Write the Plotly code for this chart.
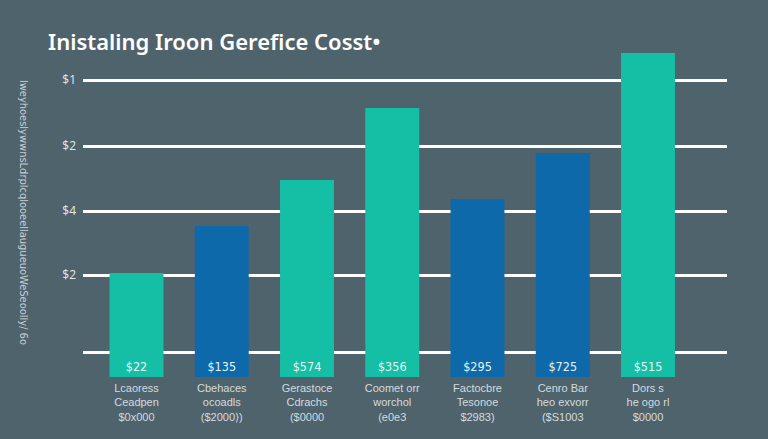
import plotly.graph_objects as go

categories = [
    "Lcaoress<br>Ceadpen<br>$0x000",
    "Cbehaces<br>ocoadls<br>($2000⟩)",
    "Gerastoce<br>Cdrachs<br>($0000",
    "Coomet orr<br>worchol<br>(e0e3",
    "Factocbre<br>Tesonoe<br>$2983)",
    "Cenro Bar<br>heo exvorr<br>($S1003",
    "Dors s<br>he ogo rl<br>$0000",
]
values = [104, 151, 197, 269, 178, 224, 324]
value_labels = ["$22", "$135", "$574", "$356", "$295", "$725", "$515"]
bar_kinds = ["teal", "blue", "teal", "teal", "blue", "blue", "teal"]
tick_vals = [25, 102, 166, 231, 297]
tick_text = ["", "$2", "$4", "$2", "$1"]

palette = {"teal": "#15BFA6", "blue": "#0E69AA"}
colors = [palette[k] for k in bar_kinds]

fig = go.Figure()
fig.add_trace(go.Bar(
    x=list(range(len(categories))),
    y=values,
    marker=dict(color=colors, line=dict(width=0)),
    text=value_labels,
    textposition="inside",
    insidetextanchor="start",
    textangle=0,
    textfont=dict(family="DejaVu Sans Condensed", size=12.5, color="#E6F4F2"),
    cliponaxis=False,
))

fig.update_layout(
    width=768, height=439,
    paper_bgcolor="#4F636D",
    plot_bgcolor="#4F636D",
    margin=dict(l=83, r=41, t=37, b=62),
    bargap=0.367,
    showlegend=False,
    title=dict(
        text="Inistaling Iroon Gerefice Cosst•",
        x=48 / 768, xanchor="left",
        y=1 - 42 / 439, yanchor="middle",
        font=dict(family="Noto Sans", size=22, color="#FFFFFF", weight=600),
    ),
    xaxis=dict(
        tickmode="array",
        tickvals=list(range(len(categories))),
        ticktext=categories,
        range=[-0.628, 6.927],
        showgrid=False, zeroline=False, showline=False,
        ticks="",
        ticklabelstandoff=3,
        tickfont=dict(family="Liberation Sans", size=11, color="#D3DBDE"),
    ),
    yaxis=dict(
        range=[0, 340],
        tickmode="array",
        tickvals=tick_vals,
        ticktext=tick_text,
        showgrid=True, gridcolor="#FFFFFF", gridwidth=3,
        zeroline=False, showline=False,
        ticks="",
        ticklabelstandoff=6,
        tickfont=dict(family="Open Sans", size=12, color="#E4EAEC"),
    ),
    annotations=[dict(
        text="lweyhoeslywwnsLdrplcqlooeellaugueuoWeSeoolly/ 6o",
        textangle=90,
        xref="paper", yref="paper",
        x=-60 / 644, y=(377 - 212) / 340,
        xanchor="center", yanchor="middle",
        showarrow=False,
        font=dict(family="DejaVu Sans Condensed", size=11, color="#C5D0D4"),
    )],
)

fig.write_html("out.html")
